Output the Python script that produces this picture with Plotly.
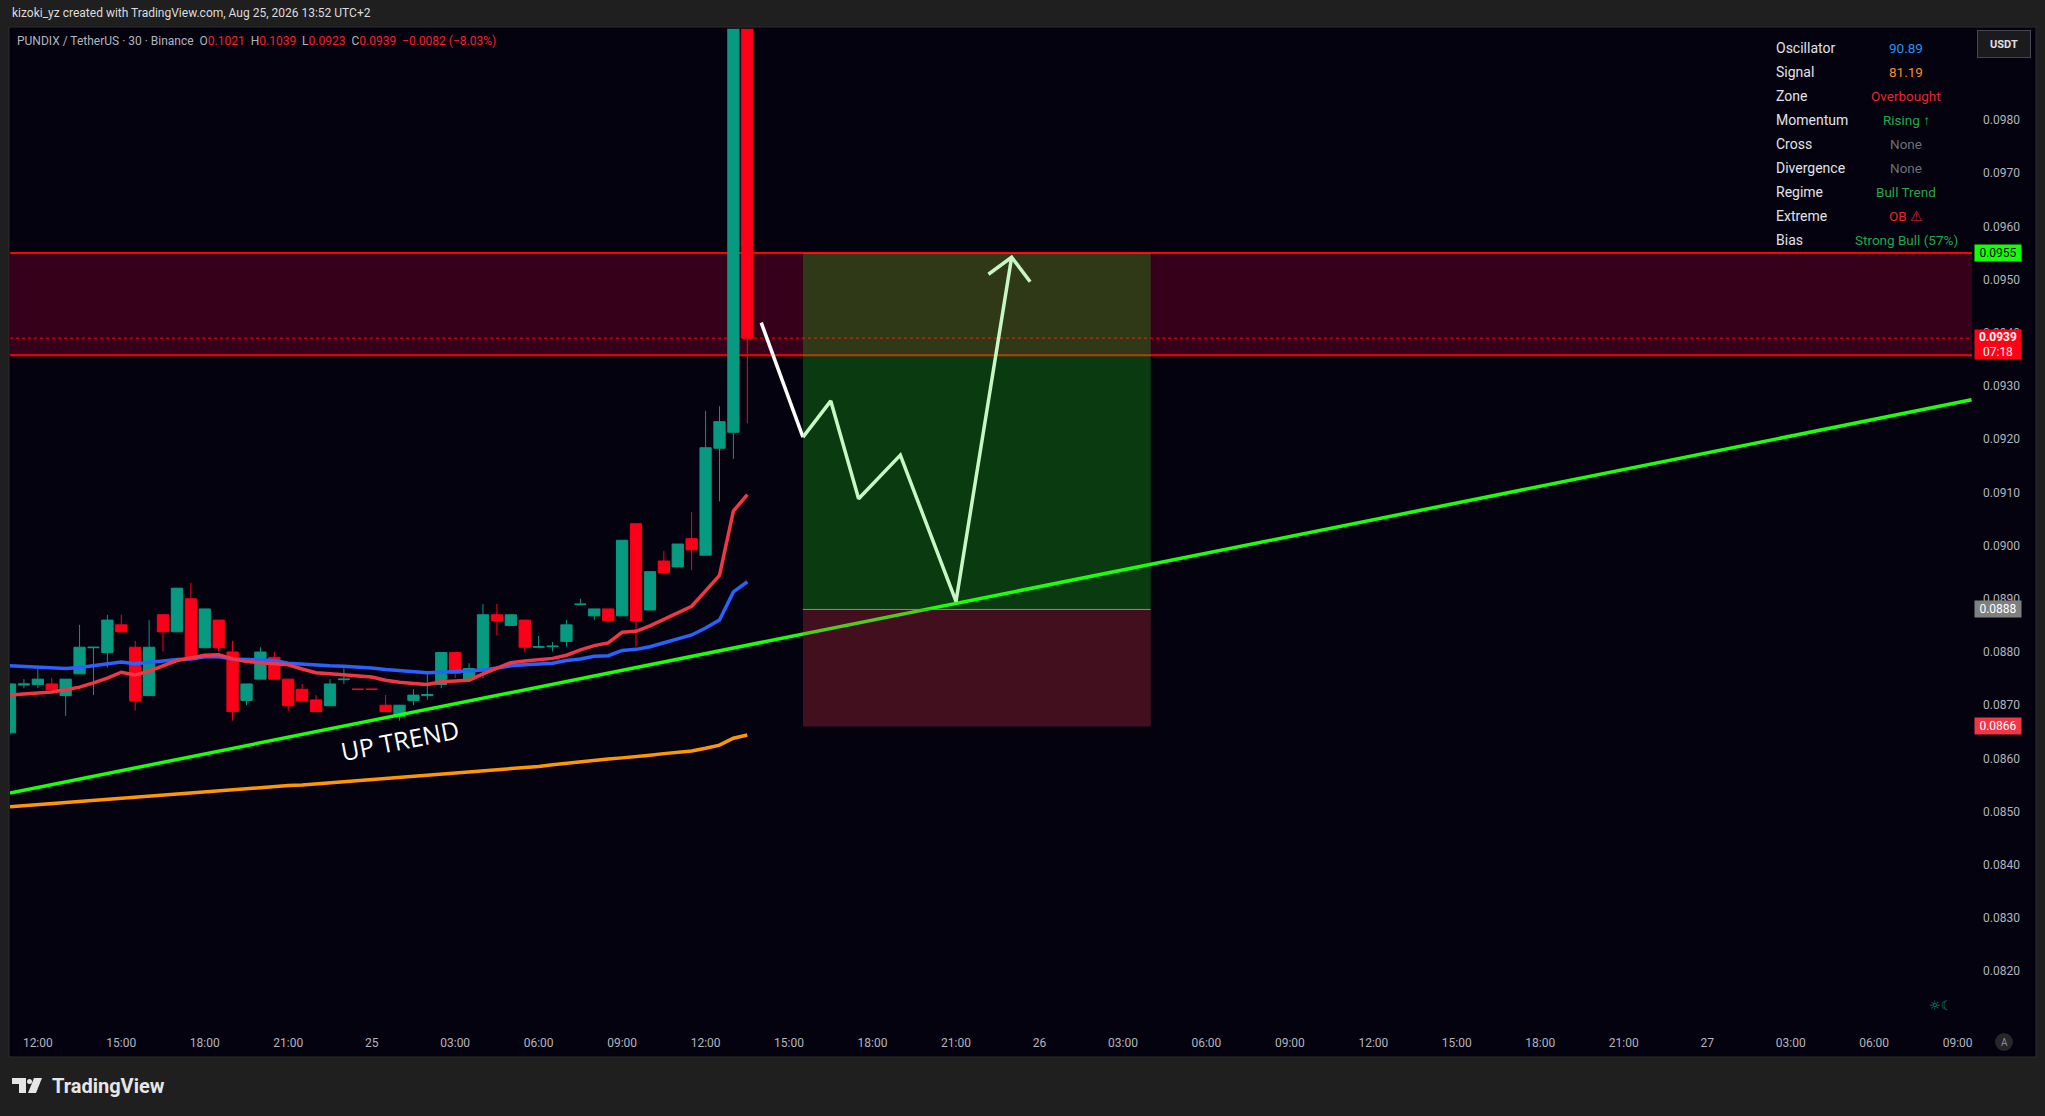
import pandas as pd
import plotly.graph_objects as go

W, H = 2045, 1116

# 30 minute candles, PUNDIX / USDT
times = pd.date_range("2026-08-24 11:00", periods=54, freq="30min")
opens = [0.08648, 0.08738, 0.08739, 0.08740, 0.08718, 0.08759, 0.08808, 0.08799, 0.08851, 0.08809,
         0.08718, 0.08870, 0.08838, 0.08900, 0.08808, 0.08860, 0.08800, 0.08709, 0.08749, 0.08790,
         0.08749, 0.08730, 0.08710, 0.08699, 0.08748, 0.08730, 0.08730, 0.08700, 0.08679, 0.08709,
         0.08718, 0.08739, 0.08799, 0.08749, 0.08769, 0.08870, 0.08850, 0.08860, 0.08809, 0.08810,
         0.08820, 0.08889, 0.08868, 0.08881, 0.08868, 0.09041, 0.08879, 0.08971, 0.08960, 0.09013,
         0.08982, 0.09183, 0.09213, 0.1021]
highs = [0.08742, 0.08749, 0.08769, 0.08751, 0.08749, 0.08851, 0.08809, 0.08870, 0.08870, 0.08821,
         0.08860, 0.08870, 0.08920, 0.08930, 0.08881, 0.08860, 0.08821, 0.08740, 0.08809, 0.08800,
         0.08749, 0.08740, 0.08719, 0.08749, 0.08769, 0.08730, 0.08730, 0.08719, 0.08700, 0.08730,
         0.08760, 0.08799, 0.08799, 0.08779, 0.08890, 0.08890, 0.08870, 0.08860, 0.08830, 0.08819,
         0.08860, 0.08900, 0.08881, 0.08881, 0.09010, 0.09041, 0.08951, 0.08990, 0.09003, 0.09063,
         0.09253, 0.09262, 0.1030, 0.1039]
lows = [0.08645, 0.08732, 0.08732, 0.08729, 0.08680, 0.08759, 0.08719, 0.08771, 0.08838, 0.08690,
        0.08718, 0.08801, 0.08838, 0.08789, 0.08808, 0.08801, 0.08671, 0.08700, 0.08749, 0.08749,
        0.08690, 0.08708, 0.08688, 0.08699, 0.08740, 0.08730, 0.08730, 0.08688, 0.08671, 0.08700,
        0.08710, 0.08732, 0.08751, 0.08749, 0.08751, 0.08831, 0.08850, 0.08801, 0.08809, 0.08801,
        0.08810, 0.08889, 0.08860, 0.08859, 0.08868, 0.08810, 0.08879, 0.08949, 0.08960, 0.08954,
        0.08982, 0.09083, 0.09163, 0.0923]
closes = [0.08740, 0.08740, 0.08749, 0.08729, 0.08749, 0.08809, 0.08809, 0.08860, 0.08838, 0.08708,
          0.08809, 0.08838, 0.08920, 0.08789, 0.08881, 0.08808, 0.08688, 0.08740, 0.08800, 0.08749,
          0.08699, 0.08708, 0.08688, 0.08740, 0.08749, 0.08730, 0.08730, 0.08688, 0.08700, 0.08719,
          0.08720, 0.08799, 0.08760, 0.08769, 0.08870, 0.08859, 0.08870, 0.08809, 0.08810, 0.08811,
          0.08851, 0.08890, 0.08881, 0.08859, 0.09010, 0.08859, 0.08951, 0.08949, 0.09003, 0.08992,
          0.09184, 0.09233, 0.1021, 0.0939]

# moving averages (fast red, mid blue, slow orange)
ema_fast = [0.08719, 0.08721, 0.08723, 0.08725, 0.08729, 0.08734, 0.08742, 0.08751, 0.08762, 0.08757,
            0.08764, 0.08774, 0.08784, 0.08789, 0.08794, 0.08795, 0.08787, 0.08782, 0.08780, 0.08779,
            0.08776, 0.08768, 0.08761, 0.08759, 0.08757, 0.08755, 0.08753, 0.08747, 0.08743, 0.08741,
            0.08739, 0.08744, 0.08746, 0.08747, 0.08759, 0.08770, 0.08780, 0.08783, 0.08786, 0.08788,
            0.08794, 0.08804, 0.08812, 0.08817, 0.08837, 0.08839, 0.08849, 0.08861, 0.08873, 0.08886,
            0.08915, 0.08944, 0.09065, 0.09096]
ema_mid = [0.08774, 0.08773, 0.08772, 0.08770, 0.08769, 0.08771, 0.08774, 0.08777, 0.08781, 0.08778,
           0.08780, 0.08783, 0.08786, 0.08787, 0.08791, 0.08791, 0.08787, 0.08786, 0.08785, 0.08784,
           0.08779, 0.08777, 0.08775, 0.08774, 0.08773, 0.08772, 0.08770, 0.08767, 0.08765, 0.08763,
           0.08761, 0.08762, 0.08763, 0.08764, 0.08766, 0.08770, 0.08774, 0.08776, 0.08777, 0.08779,
           0.08784, 0.08787, 0.08792, 0.08793, 0.08803, 0.08805, 0.08810, 0.08817, 0.08824, 0.08832,
           0.08845, 0.08860, 0.08913, 0.08932]
ema_slow = [0.08509, 0.08511, 0.08513, 0.08515, 0.08518, 0.08520, 0.08522, 0.08524, 0.08526, 0.08528,
            0.08530, 0.08532, 0.08534, 0.08536, 0.08538, 0.08540, 0.08541, 0.08543, 0.08545, 0.08547,
            0.08549, 0.08550, 0.08552, 0.08554, 0.08556, 0.08558, 0.08560, 0.08562, 0.08564, 0.08566,
            0.08568, 0.08570, 0.08572, 0.08574, 0.08576, 0.08578, 0.08580, 0.08582, 0.08585, 0.08588,
            0.08591, 0.08593, 0.08596, 0.08599, 0.08601, 0.08603, 0.08606, 0.08609, 0.08611, 0.08614,
            0.08619, 0.08625, 0.08638, 0.08644]

# drawings
trend_times = ["2026-08-24 11:00", "2026-08-27 09:30"]
trend_prices = [0.08535, 0.09274]
lead_times = ["2026-08-25 14:00", "2026-08-25 15:30"]
lead_prices = [0.09419, 0.09204]
path_times = ["2026-08-25 15:30", "2026-08-25 16:30", "2026-08-25 17:30",
              "2026-08-25 19:00", "2026-08-25 21:00", "2026-08-25 23:00"]
path_prices = [0.09204, 0.09272, 0.09088, 0.09170, 0.08895, 0.09542]
head_times = ["2026-08-25 22:10", "2026-08-25 23:00", "2026-08-25 23:40"]
head_prices = [0.09510, 0.09542, 0.09496]

zone_top, zone_bottom = 0.0955, 0.09358
last_price = 0.0939
box_start, box_end = "2026-08-25 15:30", "2026-08-26 04:00"
take_profit, entry, stop_loss = 0.0955, 0.0888, 0.0866

price_ticks = [0.082, 0.083, 0.084, 0.085, 0.086, 0.087, 0.088, 0.089, 0.090,
               0.091, 0.092, 0.093, 0.094, 0.095, 0.096, 0.097, 0.098]
price_tick_text = ["0.0820", "0.0830", "0.0840", "0.0850", "0.0860", "0.0870", "0.0880", "0.0890", "0.0900",
                   "0.0910", "0.0920", "0.0930", "0.0940", "0.0950", "0.0960", "0.0970", "0.0980"]
time_ticks = pd.date_range("2026-08-24 12:00", "2026-08-27 09:00", freq="3h")
time_tick_text = ["12:00", "15:00", "18:00", "21:00", "25", "03:00", "06:00", "09:00",
                  "12:00", "15:00", "18:00", "21:00", "26", "03:00", "06:00", "09:00",
                  "12:00", "15:00", "18:00", "21:00", "27", "03:00", "06:00", "09:00"]

table_labels = ["Oscillator", "Signal", "Zone", "Momentum", "Cross",
                "Divergence", "Regime", "Extreme", "Bias"]
table_values = ["90.89", "81.19", "Overbought", "Rising ↑", "None",
                "None", "Bull Trend", "OB ⚠", "Strong Bull (57%)"]
table_colors = ["#2196f3", "#ff8a24", "#e8262b", "#22a84a", "#6d707a",
                "#6d707a", "#22a84a", "#e8262b", "#22a84a"]

BG = "#04020f"
UP = "#089981"
DOWN = "#fd0019"
FONT = "Roboto"


def px(x):
    return x / W


def py(y):
    return 1 - y / H


fig = go.Figure()

fig.add_trace(go.Candlestick(
    x=times, open=opens, high=highs, low=lows, close=closes,
    increasing=dict(line=dict(color=UP, width=1), fillcolor=UP),
    decreasing=dict(line=dict(color=DOWN, width=1), fillcolor=DOWN),
    whiskerwidth=0, showlegend=False, hoverinfo="skip"))

for vals, col in [(ema_slow, "#ff9800"), (ema_mid, "#2962ff"), (ema_fast, "#f23645")]:
    fig.add_trace(go.Scatter(x=times, y=vals, mode="lines",
                             line=dict(color=col, width=3.5), showlegend=False, hoverinfo="skip"))

fig.add_trace(go.Scatter(x=trend_times, y=trend_prices, mode="lines",
                         line=dict(color="#1eff0a", width=3.5), showlegend=False, hoverinfo="skip"))
fig.add_trace(go.Scatter(x=lead_times, y=lead_prices, mode="lines",
                         line=dict(color="#ffffff", width=3.5), showlegend=False, hoverinfo="skip"))
fig.add_trace(go.Scatter(x=path_times, y=path_prices, mode="lines",
                         line=dict(color="#c8f7c5", width=3.5), showlegend=False, hoverinfo="skip"))
fig.add_trace(go.Scatter(x=head_times, y=head_prices, mode="lines",
                         line=dict(color="#c8f7c5", width=3.5), showlegend=False, hoverinfo="skip"))

shapes = [
    # chart frame
    dict(type="rect", xref="paper", yref="paper", x0=px(9), x1=px(2036), y0=py(1057), y1=py(27),
         fillcolor=BG, line=dict(color="#2c2c2c", width=1), layer="below"),
    # supply zone
    dict(type="rect", xref="x domain", yref="y", x0=0, x1=1, y0=zone_bottom, y1=zone_top,
         fillcolor="#37001a", line=dict(width=0), layer="below"),
    dict(type="line", xref="x domain", yref="y", x0=0, x1=1, y0=zone_top, y1=zone_top,
         line=dict(color="#ff0000", width=2), layer="below"),
    dict(type="line", xref="x domain", yref="y", x0=0, x1=1, y0=zone_bottom, y1=zone_bottom,
         line=dict(color="#ff0000", width=2), layer="below"),
    # long position
    dict(type="rect", xref="x", yref="y", x0=box_start, x1=box_end, y0=entry, y1=take_profit,
         fillcolor="rgba(28,212,19,0.27)", line=dict(width=0), layer="below"),
    dict(type="rect", xref="x", yref="y", x0=box_start, x1=box_end, y0=stop_loss, y1=entry,
         fillcolor="rgba(242,54,69,0.26)", line=dict(width=0), layer="above"),
    dict(type="line", xref="x", yref="y", x0=box_start, x1=box_end, y0=entry, y1=entry,
         line=dict(color="#8a8a8a", width=1), layer="above"),
    # last price
    dict(type="line", xref="x domain", yref="y", x0=0, x1=1, y0=last_price, y1=last_price,
         line=dict(color="#ff0000", width=1, dash="dot"), layer="below"),
    # auto button circle
    dict(type="circle", xref="paper", yref="paper", x0=px(1995), x1=px(2013), y0=py(1051), y1=py(1033),
         fillcolor="#26262b", line=dict(width=0)),
    # TradingView logo
    dict(type="path", xref="paper", yref="paper",
         path=f"M {px(12)} {py(1078)} L {px(26)} {py(1078)} L {px(26)} {py(1093)} L {px(19)} {py(1093)} "
              f"L {px(19)} {py(1084)} L {px(12)} {py(1084)} Z",
         fillcolor="#e6e6e6", line=dict(width=0)),
    dict(type="circle", xref="paper", yref="paper", x0=px(27), x1=px(32), y0=py(1084), y1=py(1079),
         fillcolor="#e6e6e6", line=dict(width=0)),
    dict(type="path", xref="paper", yref="paper",
         path=f"M {px(34)} {py(1078)} L {px(42)} {py(1078)} L {px(36)} {py(1093)} L {px(28)} {py(1093)} Z",
         fillcolor="#e6e6e6", line=dict(width=0)),
]

ann = []
ann.append(dict(xref="paper", yref="paper", x=px(10), y=py(13), xanchor="left", yanchor="middle",
                text="kizoki_yz created with TradingView.com, Aug 25, 2026 13:52 UTC+2",
                showarrow=False, font=dict(family=FONT, size=12, color="#dcdcdc")))
red = "<span style='color:#ff1a2e'>%s</span>"
title = ("PUNDIX / TetherUS · 30 · Binance  O" + red % "0.1021" + "  H" + red % "0.1039"
         + "  L" + red % "0.0923" + "  C" + red % "0.0939" + "  " + red % "−0.0082 (−8.03%)")
ann.append(dict(xref="paper", yref="paper", x=px(15), y=py(41), xanchor="left", yanchor="middle",
                text=title, showarrow=False, font=dict(family=FONT, size=12, color="#b2b5be")))

for k, (lab, val, col) in enumerate(zip(table_labels, table_values, table_colors)):
    yy = py(48 + 24 * k)
    ann.append(dict(xref="paper", yref="paper", x=px(1774), y=yy, xanchor="left", yanchor="middle",
                    text=lab, showarrow=False, font=dict(family=FONT, size=14, color="#e0e3eb")))
    ann.append(dict(xref="paper", yref="paper", x=px(1906), y=yy, xanchor="center", yanchor="middle",
                    text=val, showarrow=False, font=dict(family=FONT, size=13.5, color=col)))

ann.append(dict(xref="paper", yref="paper", x=px(2004), y=py(44), xanchor="center", yanchor="middle",
                text="<b>USDT</b>", showarrow=False, width=48, height=22,
                bgcolor="#1b1b1e", bordercolor="#434651", borderwidth=1, borderpad=2,
                font=dict(family=FONT, size=11, color="#e0e0e0")))

# price scale labels
for price, txt, bg, fg in [(take_profit, "0.0955", "#14ff00", "#000000"),
                           (entry, "0.0888", "#808080", "#ffffff"),
                           (stop_loss, "0.0866", "#f23645", "#ffffff")]:
    ann.append(dict(xref="paper", yref="y", x=px(1974), y=price, xanchor="left", yanchor="middle",
                    text=txt, showarrow=False, width=44, height=14, bgcolor=bg, borderpad=1,
                    font=dict(family=FONT, size=12, color=fg)))
ann.append(dict(xref="paper", yref="y", x=px(1974), y=last_price, xanchor="left", yanchor="top",
                yshift=9, text="<b>0.0939</b><br>07:18", showarrow=False, width=44, height=27,
                bgcolor="#ff0016", borderpad=1, font=dict(family=FONT, size=12, color="#ffffff")))

ann.append(dict(xref="x", yref="y", x="2026-08-25 01:00", y=0.08635, text="UP TREND",
                textangle=-11, showarrow=False, font=dict(family="Open Sans", size=25, color="#ffffff")))
ann.append(dict(xref="paper", yref="paper", x=px(1940), y=py(1005), xanchor="center", yanchor="middle",
                text="☼☾", showarrow=False, font=dict(family="DejaVu Sans", size=13, color=UP)))
ann.append(dict(xref="paper", yref="paper", x=px(2004), y=py(1042), xanchor="center", yanchor="middle",
                text="A", showarrow=False, font=dict(family=FONT, size=10, color="#8a8d96")))
ann.append(dict(xref="paper", yref="paper", x=px(50), y=py(1086), xanchor="left", yanchor="middle",
                text="<b>TradingView</b>", showarrow=False,
                font=dict(family=FONT, size=20, color="#e6e6e6")))

fig.update_layout(
    width=W, height=H,
    margin=dict(l=0, r=0, t=0, b=0),
    paper_bgcolor="#1f1f1f", plot_bgcolor=BG,
    showlegend=False,
    boxgap=0.1, boxgroupgap=0.1,
    shapes=shapes, annotations=ann,
    xaxis=dict(domain=[px(10), px(1972)], type="date",
               range=["2026-08-24 11:00", "2026-08-27 09:31"],
               rangeslider=dict(visible=False),
               tickmode="array", tickvals=time_ticks, ticktext=time_tick_text,
               showgrid=False, zeroline=False, showline=False, ticks="",
               ticklabelstandoff=9,
               tickfont=dict(family=FONT, size=12, color="#b2b5be")),
    yaxis=dict(domain=[py(1025), py(28.7)], side="right",
               range=[0.080989, 0.099716],
               tickmode="array", tickvals=price_ticks, ticktext=price_tick_text,
               showgrid=False, zeroline=False, showline=False, ticks="",
               ticklabelstandoff=10,
               tickfont=dict(family=FONT, size=12, color="#b2b5be")),
)

# drop the browser's default page margin so the figure sits at the window origin
fig.write_html("out.html", config={"displayModeBar": False},
               post_script="document.body.style.margin='0';")
